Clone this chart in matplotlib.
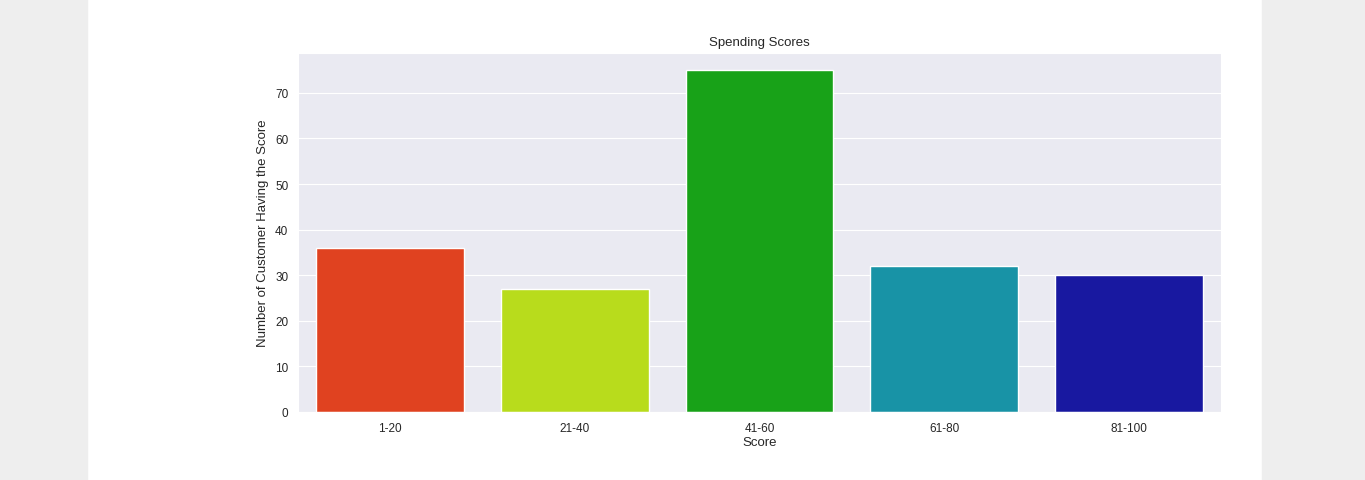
import matplotlib
matplotlib.use("Agg")
import matplotlib.pyplot as plt
import seaborn as sns
from matplotlib.patches import Rectangle

categories = ["1-20", "21-40", "41-60", "61-80", "81-100"]
counts = [36, 27, 75, 32, 30]
colors = ["#e04220", "#b8dc1c", "#18a218", "#1893a6", "#1818a0"]

sns.set_style("darkgrid")
plt.rcParams['font.family'] = ['Liberation Sans', 'DejaVu Sans']
fig = plt.figure(figsize=(13.65, 4.81), dpi=100)
fig.patch.set_facecolor("white")
fig.patches.append(Rectangle((0, 0), 87/1365, 1, transform=fig.transFigure, color="#eeeeee", zorder=-1))
fig.patches.append(Rectangle((1262/1365, 0), 1-1262/1365, 1, transform=fig.transFigure, color="#eeeeee", zorder=-1))

ax = fig.add_axes([298/1365, 68/481, 923/1365, 359/481])
ax.bar(categories, counts, color=colors, width=0.8)
ax.set_ylim(0, 78.75)
ax.set_xlim(-0.5, 4.5)
ax.grid(False, axis="x")
ax.set_title("Spending Scores", fontsize=9.5)
ax.set_xlabel("Score", fontsize=9.5, labelpad=2)
ax.set_ylabel("Number of Customer Having the Score", fontsize=9.5)
ax.tick_params(labelsize=8.5)
fig.savefig("out.png", dpi=100)
